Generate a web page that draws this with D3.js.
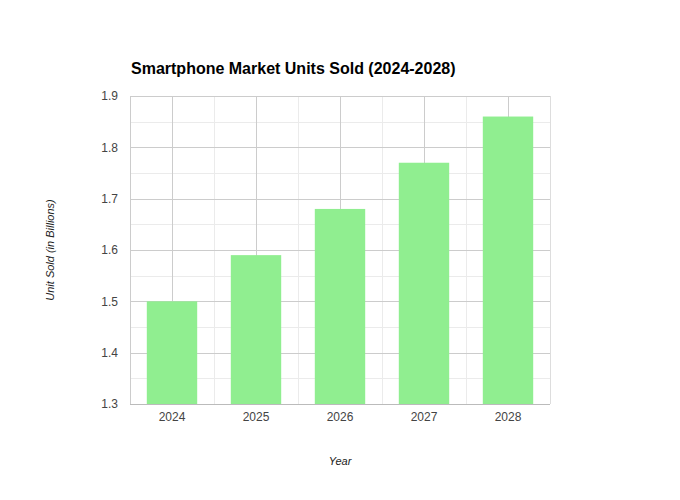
<!DOCTYPE html>
<html>
<head>
<meta charset="utf-8">
<script src="https://cdn.jsdelivr.net/npm/d3@7"></script>
<style>
  body { margin: 0; background: #fff; }
  svg text { font-family: "Liberation Sans", Arial, sans-serif; }
</style>
</head>
<body>
<script>
var years = ["2024", "2025", "2026", "2027", "2028"];
var unitsSold = [1.50, 1.59, 1.68, 1.77, 1.86];
var yTicks = [1.3, 1.4, 1.5, 1.6, 1.7, 1.8, 1.9];
var yMinorTicks = [1.35, 1.45, 1.55, 1.65, 1.75, 1.85];

(function () {
    var width = 680;
    var height = 500;
    var left = 130, right = 550, top = 96, bottom = 404;

    var svg = d3.select("body").append("svg")
        .attr("width", width)
        .attr("height", height);

    var xScale = d3.scaleBand()
        .domain(years)
        .range([left, right])
        .paddingInner(0.4)
        .paddingOuter(0.2);

    var yScale = d3.scaleLinear()
        .domain([1.3, 1.9])
        .range([bottom, top]);

    // minor horizontal grid
    svg.append("g").selectAll("line")
        .data(yMinorTicks)
        .enter().append("line")
        .attr("x1", left).attr("x2", right)
        .attr("y1", (d) => Math.round(yScale(d)) + 0.5)
        .attr("y2", (d) => Math.round(yScale(d)) + 0.5)
        .attr("stroke", "#ebebeb");

    // minor vertical grid at band edges
    var step = xScale.step();
    svg.append("g").selectAll("line")
        .data(years.slice(1))
        .enter().append("line")
        .attr("x1", (d) => Math.round(xScale(d) - xScale.paddingInner() * step / 2) + 0.5)
        .attr("x2", (d) => Math.round(xScale(d) - xScale.paddingInner() * step / 2) + 0.5)
        .attr("y1", top).attr("y2", bottom)
        .attr("stroke", "#ebebeb");

    // major horizontal grid
    svg.append("g").selectAll("line")
        .data(yTicks)
        .enter().append("line")
        .attr("x1", left).attr("x2", right)
        .attr("y1", (d) => Math.round(yScale(d)) + 0.5)
        .attr("y2", (d) => Math.round(yScale(d)) + 0.5)
        .attr("stroke", "#cccccc");

    // major vertical grid at category centers
    svg.append("g").selectAll("line")
        .data(years)
        .enter().append("line")
        .attr("x1", (d) => Math.round(xScale(d) + xScale.bandwidth() / 2) + 0.5)
        .attr("x2", (d) => Math.round(xScale(d) + xScale.bandwidth() / 2) + 0.5)
        .attr("y1", top).attr("y2", bottom)
        .attr("stroke", "#cccccc");

    // plot borders
    svg.append("line")
        .attr("x1", left + 0.5).attr("x2", left + 0.5)
        .attr("y1", top).attr("y2", bottom)
        .attr("stroke", "#cccccc");
    svg.append("line")
        .attr("x1", right + 0.5).attr("x2", right + 0.5)
        .attr("y1", top).attr("y2", bottom)
        .attr("stroke", "#dddddd");

    // bars
    svg.append("g").selectAll("rect")
        .data(unitsSold)
        .enter().append("rect")
        .attr("x", (d, i) => xScale(years[i]))
        .attr("y", (d) => yScale(d))
        .attr("width", xScale.bandwidth())
        .attr("height", (d) => bottom - yScale(d))
        .attr("fill", "#90ee90");

    // axes
    var yAxisGen = d3.axisLeft(yScale)
        .tickValues(yTicks)
        .tickFormat(d3.format(".1f"))
        .tickSize(0)
        .tickPadding(12);
    var yAxis = svg.append("g")
        .attr("transform", "translate(" + left + ",0)")
        .call(yAxisGen);
    yAxis.select(".domain").remove();
    yAxis.selectAll("text")
        .attr("fill", "#444")
        .style("font-size", "12px");

    var xAxisGen = d3.axisBottom(xScale).tickSize(0).tickPadding(8);
    var xAxis = svg.append("g")
        .attr("transform", "translate(0," + bottom + ")")
        .call(xAxisGen);
    xAxis.select(".domain").attr("stroke", "#bbbbbb").attr("d", "M" + left + ",0.5H" + right);
    xAxis.selectAll("text")
        .attr("fill", "#444")
        .style("font-size", "12px");

    // title
    svg.append("text")
        .attr("x", 131)
        .attr("y", 74)
        .attr("font-size", "16px")
        .attr("font-weight", "bold")
        .attr("fill", "#000")
        .text("Smartphone Market Units Sold (2024-2028)");

    // axis titles
    svg.append("text")
        .attr("x", 340)
        .attr("y", 465)
        .attr("text-anchor", "middle")
        .attr("font-size", "11px")
        .attr("font-style", "italic")
        .attr("fill", "#222")
        .text("Year");

    svg.append("text")
        .attr("transform", "translate(54,250) rotate(-90)")
        .attr("text-anchor", "middle")
        .attr("font-size", "11px")
        .attr("font-style", "italic")
        .attr("fill", "#222")
        .text("Unit Sold (in Billions)");
})();
</script>
</body>
</html>
